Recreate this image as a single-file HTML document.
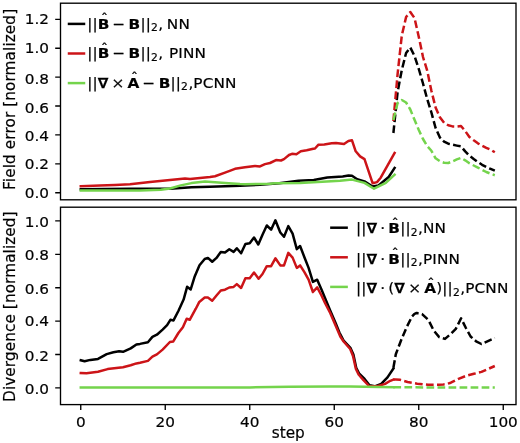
<!DOCTYPE html>
<html><head><meta charset="utf-8"><title>figure</title><style>html,body{margin:0;padding:0;background:#fff}svg{display:block}</style></head><body>
<svg width="520" height="443" viewBox="0 0 520 443" font-family="'DejaVu Sans', 'Liberation Sans', sans-serif" font-size="15.28px">
<style>text{stroke:#000;stroke-width:0.2px;paint-order:stroke}</style>
<rect width="520" height="443" fill="#fff"/>
<defs><clipPath id="c1"><rect x="60.5" y="3.2" width="455.5" height="196.6"/></clipPath><clipPath id="c2"><rect x="60.5" y="207.2" width="455.5" height="197.4"/></clipPath></defs>
<g clip-path="url(#c1)">
<polyline points="80.8,189.2 130.0,188.8 170.0,188.7 191.5,187.3 210.0,186.7 225.0,186.2 240.0,185.8 260.0,184.8 279.2,183.3 298.5,180.8 313.8,180.0 327.3,177.5 342.7,176.5 348.5,175.6 352.0,175.8 357.2,179.2 364.5,181.4 372.6,186.5 378.5,185.5 388.7,177.0 394.6,167.9" fill="none" stroke="#000000" stroke-width="2.50" stroke-linejoin="round" stroke-linecap="square"/>
<polyline points="80.8,186.3 100.0,185.6 115.0,185.0 130.0,184.2 150.0,182.0 170.0,180.0 185.0,178.4 190.0,179.0 205.0,177.6 210.0,177.1 215.0,176.2 225.0,172.6 235.0,168.8 245.0,167.2 255.0,165.9 260.0,166.4 265.0,164.1 270.0,163.0 276.0,160.1 281.0,160.5 284.0,159.1 289.0,155.0 292.0,153.8 296.4,154.2 300.8,151.3 306.7,150.3 313.3,148.8 315.0,148.5 318.5,144.7 324.3,144.4 331.7,143.2 336.0,142.9 344.0,144.0 348.4,141.0 352.0,140.3 355.7,151.3 360.1,156.4 364.5,159.1 372.6,183.2 377.0,182.1 380.7,177.7 394.6,153.0" fill="none" stroke="#cc1418" stroke-width="2.50" stroke-linejoin="round" stroke-linecap="square"/>
<polyline points="80.8,190.6 140.0,190.4 160.8,189.7 170.0,188.5 180.8,185.4 191.5,183.1 205.0,181.6 225.0,183.1 240.0,184.1 245.0,184.3 270.0,183.8 275.0,183.3 300.0,183.0 340.0,180.7 352.0,179.6 364.5,182.9 374.0,188.7 385.8,182.9 394.6,174.8" fill="none" stroke="#74d44c" stroke-width="2.50" stroke-linejoin="round" stroke-linecap="square"/>
<polyline points="393.4,133.0 397.6,92.0 401.8,70.0 406.1,53.0 410.3,47.5 414.5,56.0 418.8,69.0 423.0,83.5 427.2,99.0 431.4,112.5 435.6,128.0 439.9,137.5 444.1,141.7 448.3,143.7 452.5,144.7 456.8,145.6 461.0,146.4 465.2,151.4 469.4,155.7 473.7,159.0 477.9,162.0 482.1,164.8 486.3,167.0 490.6,168.9 494.8,170.7" fill="none" stroke="#000000" stroke-width="2.50" stroke-linejoin="round" stroke-linecap="butt" stroke-dasharray="7.7,3.33"/>
<polyline points="393.4,121.0 397.6,74.0 401.8,35.5 406.1,17.0 410.3,12.0 414.5,18.0 418.8,37.0 423.0,57.0 427.2,70.6 431.4,90.8 435.6,107.5 439.9,117.3 444.1,122.7 448.3,125.3 452.5,126.4 456.8,126.5 461.0,126.0 465.2,131.0 469.4,137.0 473.7,140.3 477.9,143.3 482.1,145.7 486.3,147.8 490.6,149.6 494.8,152.3" fill="none" stroke="#cc1418" stroke-width="2.50" stroke-linejoin="round" stroke-linecap="butt" stroke-dasharray="7.7,3.33"/>
<polyline points="393.4,120.0 397.6,103.0 401.8,100.0 406.1,102.5 410.3,109.5 414.5,119.8 418.8,130.0 423.0,139.0 427.2,146.0 431.4,150.8 435.6,158.3 439.9,161.2 444.1,162.7 448.3,163.0 452.5,161.4 456.8,159.4 461.0,157.9 465.2,160.3 469.4,163.3 473.7,165.5 477.9,167.6 482.1,169.8 486.3,172.0 490.6,173.7 494.8,175.2" fill="none" stroke="#74d44c" stroke-width="2.50" stroke-linejoin="round" stroke-linecap="butt" stroke-dasharray="7.7,3.33"/>
</g>
<g clip-path="url(#c2)">
<polyline points="80.8,360.3 84.6,361.2 90.4,359.9 98.0,358.9 106.7,354.1 113.4,352.2 119.1,351.3 123.0,351.8 130.7,348.4 136.4,344.5 140.0,343.9 147.9,342.2 152.4,336.9 156.9,334.7 162.6,329.6 167.1,325.1 170.4,319.8 173.5,320.4 178.5,310.7 183.6,299.6 187.1,286.8 190.7,289.4 194.8,276.2 199.5,265.3 204.7,259.0 207.9,257.9 212.2,261.8 216.5,257.9 220.8,251.9 225.0,252.6 229.3,249.3 233.6,251.9 236.8,248.3 241.1,253.2 245.4,244.0 249.7,243.3 254.0,237.5 258.3,244.5 262.5,234.7 266.8,225.5 271.1,229.7 275.4,220.3 280.3,232.5 284.0,236.8 288.3,226.1 292.6,233.6 296.8,249.1 300.1,246.0 304.4,257.2 308.6,267.9 312.9,281.9 317.2,279.7 321.7,290.0 325.0,298.0 328.0,305.2 330.4,311.0 335.8,323.6 339.4,332.5 343.6,340.5 350.6,348.2 353.4,354.5 356.2,367.8 359.0,373.4 364.6,379.0 369.5,385.2 374.7,386.3 381.2,383.9 387.5,377.4 393.4,368.5" fill="none" stroke="#000000" stroke-width="2.50" stroke-linejoin="round" stroke-linecap="square"/>
<polyline points="80.8,373.0 86.5,373.3 98.0,371.8 107.6,369.1 123.0,367.2 130.7,365.3 136.4,363.4 140.0,362.7 147.9,360.9 152.4,356.7 156.9,354.4 162.6,349.6 169.9,342.0 173.3,341.4 178.4,333.0 182.9,327.3 186.7,318.8 189.7,319.8 195.8,308.7 199.3,301.9 204.7,297.6 207.9,297.6 212.2,300.8 216.5,295.5 220.8,290.5 225.0,289.7 229.3,287.5 233.6,286.9 236.8,284.1 241.1,288.0 245.4,278.3 249.7,278.3 254.0,272.5 258.6,278.7 262.5,274.0 266.8,266.2 271.1,266.2 275.4,258.3 280.3,265.4 284.0,265.4 288.3,252.9 292.6,257.6 296.8,267.9 300.1,265.4 304.4,272.2 308.6,279.7 312.9,292.0 317.2,287.3 321.5,295.5 325.0,303.0 330.2,313.0 335.8,326.0 340.3,336.5 343.6,341.5 350.2,349.0 353.0,356.0 355.8,368.6 358.6,374.5 363.5,380.2 369.0,386.0 377.3,386.2 385.1,383.9 390.3,380.8 393.4,379.6" fill="none" stroke="#cc1418" stroke-width="2.50" stroke-linejoin="round" stroke-linecap="square"/>
<polyline points="80.8,387.6 250.0,387.4 290.0,386.8 330.0,386.4 350.0,386.5 380.0,387.0 393.4,387.3" fill="none" stroke="#74d44c" stroke-width="2.50" stroke-linejoin="round" stroke-linecap="square"/>
<polyline points="393.4,367.8 395.8,354.2 401.3,339.8 406.7,327.1 412.1,316.3 414.5,313.8 416.6,313.0 419.5,313.2 422.1,314.1 428.4,319.9 433.8,330.7 439.2,337.1 445.0,338.9 451.3,333.4 455.8,328.9 461.1,318.3 465.9,328.0 470.6,336.5 476.1,341.3 481.4,344.0 487.4,341.3 494.8,338.0" fill="none" stroke="#000000" stroke-width="2.50" stroke-linejoin="round" stroke-linecap="butt" stroke-dasharray="7.7,3.33"/>
<polyline points="393.4,379.6 395.8,379.4 400.0,379.8 407.6,382.0 417.2,383.7 427.9,384.8 438.7,384.8 443.4,384.4 447.0,384.0 450.8,382.7 458.5,378.8 466.2,375.8 473.9,373.8 481.5,371.9 494.8,366.0" fill="none" stroke="#cc1418" stroke-width="2.50" stroke-linejoin="round" stroke-linecap="butt" stroke-dasharray="7.7,3.33"/>
<polyline points="393.4,387.3 494.8,387.6" fill="none" stroke="#74d44c" stroke-width="2.50" stroke-linejoin="round" stroke-linecap="butt" stroke-dasharray="7.7,3.33"/>
</g>
<rect x="60.50" y="3.20" width="455.50" height="196.60" fill="none" stroke="#000" stroke-width="1.35"/>
<rect x="60.50" y="207.20" width="455.50" height="197.40" fill="none" stroke="#000" stroke-width="1.35"/>
<path d="M55.20 192.70H60.50M55.20 163.80H60.50M55.20 134.90H60.50M55.20 106.00H60.50M55.20 77.10H60.50M55.20 48.20H60.50M55.20 19.30H60.50M55.20 387.90H60.50M55.20 354.50H60.50M55.20 321.10H60.50M55.20 287.70H60.50M55.20 254.30H60.50M55.20 220.90H60.50M80.75 404.60V409.90M165.25 404.60V409.90M249.75 404.60V409.90M334.25 404.60V409.90M418.75 404.60V409.90M503.25 404.60V409.90" stroke="#000" stroke-width="1.35"/>
<text x="49.00" y="198.10" transform="matrix(1,0,0,0.970,0,5.943)" text-anchor="end">0.0</text>
<text x="49.00" y="169.40" transform="matrix(1,0,0,0.970,0,5.082)" text-anchor="end">0.2</text>
<text x="49.00" y="141.25" transform="matrix(1,0,0,0.970,0,4.238)" text-anchor="end">0.4</text>
<text x="49.00" y="112.65" transform="matrix(1,0,0,0.970,0,3.380)" text-anchor="end">0.6</text>
<text x="49.00" y="83.95" transform="matrix(1,0,0,0.970,0,2.519)" text-anchor="end">0.8</text>
<text x="49.00" y="53.15" transform="matrix(1,0,0,0.970,0,1.595)" text-anchor="end">1.0</text>
<text x="49.00" y="24.25" transform="matrix(1,0,0,0.970,0,0.728)" text-anchor="end">1.2</text>
<text x="49.00" y="393.55" transform="matrix(1,0,0,0.970,0,11.807)" text-anchor="end">0.0</text>
<text x="49.00" y="360.55" transform="matrix(1,0,0,0.970,0,10.817)" text-anchor="end">0.2</text>
<text x="49.00" y="326.40" transform="matrix(1,0,0,0.970,0,9.792)" text-anchor="end">0.4</text>
<text x="49.00" y="293.80" transform="matrix(1,0,0,0.970,0,8.814)" text-anchor="end">0.6</text>
<text x="49.00" y="259.80" transform="matrix(1,0,0,0.970,0,7.794)" text-anchor="end">0.8</text>
<text x="49.00" y="226.90" transform="matrix(1,0,0,0.970,0,6.807)" text-anchor="end">1.0</text>
<text x="80.75" y="426.80" transform="matrix(1,0,0,0.970,0,12.804)" text-anchor="middle">0</text>
<text x="165.25" y="426.80" transform="matrix(1,0,0,0.970,0,12.804)" text-anchor="middle">20</text>
<text x="249.75" y="426.80" transform="matrix(1,0,0,0.970,0,12.804)" text-anchor="middle">40</text>
<text x="334.25" y="426.80" transform="matrix(1,0,0,0.970,0,12.804)" text-anchor="middle">60</text>
<text x="418.75" y="426.80" transform="matrix(1,0,0,0.970,0,12.804)" text-anchor="middle">80</text>
<text x="503.25" y="426.80" transform="matrix(1,0,0,0.970,0,12.804)" text-anchor="middle">100</text>
<text x="288.25" y="437.60" text-anchor="middle">step</text>
<text transform="translate(15.0,99.4) rotate(-90)" text-anchor="middle" textLength="181" lengthAdjust="spacing">Field error [normalized]</text>
<text transform="translate(15.0,306.7) rotate(-90)" text-anchor="middle" textLength="190.5" lengthAdjust="spacing">Divergence [normalized]</text>
<path d="M69.00 23.90H84.00" stroke="#000000" stroke-width="2.50" stroke-linecap="square"/>
<text transform="matrix(1,0,0,0.935,0,1.878)"><tspan x="87.30" y="28.90">|</tspan><tspan x="92.53" y="28.90">|</tspan><tspan x="97.75" y="28.90" style="font-weight:700">B</tspan><tspan x="108.33" y="23.86">̂</tspan><tspan x="112.59" y="28.90">−</tspan><tspan x="128.61" y="28.90" style="font-weight:700">B</tspan><tspan x="140.43" y="28.90">|</tspan><tspan x="145.66" y="28.90">|</tspan><tspan x="151.03" y="31.36" style="font-size:10.70px">2</tspan><tspan x="158.35" y="28.90">,</tspan><tspan x="166.81" y="28.90">N</tspan><tspan x="178.41" y="28.90">N</tspan></text>
<path d="M69.00 53.50H84.00" stroke="#cc1418" stroke-width="2.50" stroke-linecap="square"/>
<text transform="matrix(1,0,0,0.935,0,3.786)"><tspan x="87.30" y="58.25">|</tspan><tspan x="92.53" y="58.25">|</tspan><tspan x="97.75" y="58.25" style="font-weight:700">B</tspan><tspan x="108.33" y="53.21">̂</tspan><tspan x="112.59" y="58.25">−</tspan><tspan x="128.61" y="58.25" style="font-weight:700">B</tspan><tspan x="140.43" y="58.25">|</tspan><tspan x="145.66" y="58.25">|</tspan><tspan x="151.03" y="60.71" style="font-size:10.70px">2</tspan><tspan x="158.35" y="58.25">,</tspan><tspan x="169.01" y="58.25">P</tspan><tspan x="178.36" y="58.25">I</tspan><tspan x="182.94" y="58.25">N</tspan><tspan x="194.54" y="58.25">N</tspan></text>
<path d="M69.00 83.10H84.00" stroke="#74d44c" stroke-width="2.50" stroke-linecap="square"/>
<text transform="matrix(1,0,0,0.935,0,5.691)"><tspan x="87.30" y="87.55">|</tspan><tspan x="92.53" y="87.55">|</tspan><tspan x="97.75" y="87.55" style="font-weight:700">∇</tspan><tspan x="111.58" y="87.55">×</tspan><tspan x="127.60" y="87.55" style="font-weight:700">A</tspan><tspan x="138.22" y="82.51">̂</tspan><tspan x="142.62" y="87.55">−</tspan><tspan x="158.64" y="87.55" style="font-weight:700">B</tspan><tspan x="170.46" y="87.55">|</tspan><tspan x="175.68" y="87.55">|</tspan><tspan x="181.05" y="90.01" style="font-size:10.70px">2</tspan><tspan x="188.38" y="87.55">,</tspan><tspan x="193.31" y="87.55">P</tspan><tspan x="202.66" y="87.55">C</tspan><tspan x="213.49" y="87.55">N</tspan><tspan x="225.09" y="87.55">N</tspan></text>
<path d="M331.40 227.70H346.60" stroke="#000000" stroke-width="2.50" stroke-linecap="square"/>
<text transform="matrix(1,0,0,0.935,0,15.164)"><tspan x="356.10" y="233.30">|</tspan><tspan x="361.33" y="233.30">|</tspan><tspan x="366.55" y="233.30" style="font-weight:700">∇</tspan><tspan x="380.38" y="233.30">⋅</tspan><tspan x="388.33" y="233.30" style="font-weight:700">B</tspan><tspan x="398.91" y="228.26">̂</tspan><tspan x="400.15" y="233.30">|</tspan><tspan x="405.38" y="233.30">|</tspan><tspan x="410.75" y="235.76" style="font-size:10.70px">2</tspan><tspan x="418.07" y="233.30">,</tspan><tspan x="423.00" y="233.30">N</tspan><tspan x="434.60" y="233.30">N</tspan></text>
<path d="M331.40 257.30H346.60" stroke="#cc1418" stroke-width="2.50" stroke-linecap="square"/>
<text transform="matrix(1,0,0,0.935,0,17.173)"><tspan x="356.10" y="264.20">|</tspan><tspan x="361.33" y="264.20">|</tspan><tspan x="366.55" y="264.20" style="font-weight:700">∇</tspan><tspan x="380.38" y="264.20">⋅</tspan><tspan x="388.33" y="264.20" style="font-weight:700">B</tspan><tspan x="398.91" y="259.16">̂</tspan><tspan x="400.15" y="264.20">|</tspan><tspan x="405.38" y="264.20">|</tspan><tspan x="410.75" y="266.66" style="font-size:10.70px">2</tspan><tspan x="418.07" y="264.20">,</tspan><tspan x="423.00" y="264.20">P</tspan><tspan x="432.35" y="264.20">I</tspan><tspan x="436.93" y="264.20">N</tspan><tspan x="448.53" y="264.20">N</tspan></text>
<path d="M331.40 286.90H346.60" stroke="#74d44c" stroke-width="2.50" stroke-linecap="square"/>
<text transform="matrix(1,0,0,0.935,0,19.064)"><tspan x="356.10" y="293.30">|</tspan><tspan x="361.33" y="293.30">|</tspan><tspan x="366.55" y="293.30" style="font-weight:700">∇</tspan><tspan x="380.38" y="293.30">⋅</tspan><tspan x="388.33" y="293.30">(</tspan><tspan x="394.38" y="293.30" style="font-weight:700">∇</tspan><tspan x="408.21" y="293.30">×</tspan><tspan x="424.23" y="293.30" style="font-weight:700">A</tspan><tspan x="434.85" y="288.26">̂</tspan><tspan x="436.23" y="293.30">)</tspan><tspan x="442.28" y="293.30">|</tspan><tspan x="447.50" y="293.30">|</tspan><tspan x="452.88" y="295.76" style="font-size:10.70px">2</tspan><tspan x="460.20" y="293.30">,</tspan><tspan x="465.13" y="293.30">P</tspan><tspan x="474.48" y="293.30">C</tspan><tspan x="485.31" y="293.30">N</tspan><tspan x="496.91" y="293.30">N</tspan></text>
</svg></body></html>
